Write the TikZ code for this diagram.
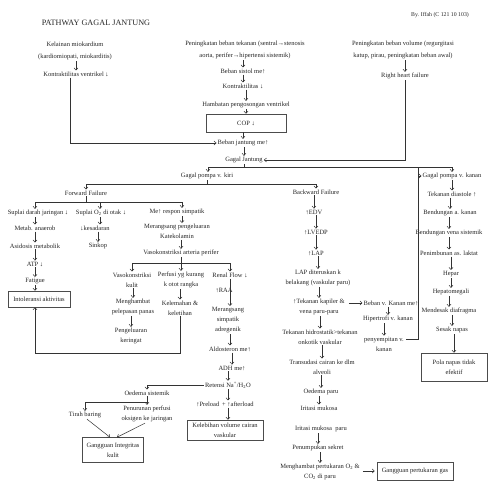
\documentclass[tikz,border=0pt]{standalone}
\usepackage{fontspec}
\setmainfont{Liberation Serif}
\usetikzlibrary{arrows.meta}
\newcommand\myfs{\fontsize{6.5}{10}\selectfont}
\newcommand\myfsb{\fontsize{6.5}{12}\selectfont}
\newcommand\dnar[2]{\draw[arr] (#2.north |- #1.south) -- (#2.north);}
\begin{document}
\begin{tikzpicture}[x=1pt,y=-1pt,
  t/.style={font=\myfs, align=center, inner sep=1pt, text=black!85},
  tb/.style={font=\myfsb, align=center, inner sep=1pt, text=black!85},
  bx/.style={t, draw=black!70, line width=0.5pt},
  arr/.style={-{Straight Barb[length=2.2pt,width=4pt]}, line width=0.5pt, draw=black!80},
  ln/.style={line width=0.5pt, draw=black!80}]
\fill[white] (0,0) rectangle (495,495);
\useasboundingbox (0,0) rectangle (495,495);

% header
\node[t,font=\fontsize{8.2}{10}\selectfont] (title) at (96,23) {PATHWAY GAGAL JANTUNG};
\node[t,font=\fontsize{5.8}{7}\selectfont] (by) at (440,15) {By. Iffah (C 121 10 103)};

% top left
\node[tb] (kel) at (75,51) {Kelainan miokardium\\(kardiomiopati, miokarditis)};
\node[t] (kontv) at (76,74) {Kontraktilitas ventrikel ↓};

% top middle
\node[tb] (pbt) at (245,50) {Peningkatan beban tekanan (sentral→stenosis\\aorta, perifer→hipertensi sistemik)};
\node[t] (bsm) at (243,71) {Beban sistol me↑};
\node[t] (kon) at (243,86) {Kontraktilitas ↓};
\node[t] (hpv) at (246,105) {Hambatan pengosongan ventrikel};
\node[bx,minimum width=80pt,minimum height=18pt] (cop) at (246,123) {COP ↓};
\node[t] (bjm) at (243,143) {Beban jantung me↑};
\node[t] (gj) at (244,160) {Gagal Jantung};

% top right
\node[tb] (pbv) at (403,50) {Peningkatan beban volume (regurgitasi\\katup, pirau, peningkatan beban awal)};
\node[t] (rhf) at (405,76) {Right heart failure};

% level 2
\node[t] (gpki) at (207,176) {Gagal pompa v. kiri};
\node[t] (ff) at (86,193) {Forward Failure};
\node[t] (bf) at (316,192) {Backward Failure};

% forward: left
\node[t] (sdj) at (38,213) {Suplai darah jaringan ↓};
\node[t] (ma) at (35,228) {Metab. anaerob};
\node[t] (asi) at (35,246) {Asidosis metabolik};
\node[t] (atp) at (35,264) {ATP ↓};
\node[t] (fat) at (35,281) {Fatigue};
\node[bx,minimum width=62pt,minimum height=16pt] (ia) at (39,299) {Intoleransi aktivitas};

\node[t] (so2) at (101,213) {Suplai O\textsubscript{2} di otak ↓};
\node[t] (kes) at (95,228) {↓kesadaran};
\node[t] (sin) at (98,246) {Sinkop};

% forward: middle
\node[t] (mrs) at (177,212) {Me↑ respon simpatik};
\node[t] (mpk) at (177,231.5) {Merangsang pengeluaran\\Katekolamin};
\node[t] (vap) at (181,253) {Vasokonstriksi arteria perifer};

\node[t] (vk) at (132,280) {Vasokonstriksi\\kulit};
\node[t] (mpp) at (133,307) {Menghambat\\pelepasan panas};
\node[t] (pk) at (131,336) {Pengeluaran\\keringat};

\node[t] (pyk) at (181,280) {Perfusi yg kurang\\k otot rangka};
\node[t] (kk) at (180,308) {Kelemahan \&\\keletihan};

\node[t] (rf) at (230,275) {Renal Flow ↓};
\node[t] (raa) at (224,290) {↑RAA};
\node[t] (msa) at (228,320) {Merangsang\\simpatik\\adregenik};
\node[t] (ald) at (230,349) {Aldosteron me↑};
\node[t] (adh) at (232,368) {ADH me↑};
\node[t] (ret) at (228,385) {Retensi Na\textsuperscript{+}/H\textsubscript{2}O};
\node[t] (pre) at (225,404) {↑Preload\, + ↑afterload};
\node[bx,minimum width=76pt,minimum height=20pt] (kvc) at (225,430) {Kelebihan volume cairan\\vaskular};

\node[t] (os) at (147,393) {Oedema sistemik};
\node[t] (tbr) at (85,415) {Tirah baring};
\node[t] (ppo) at (147,414) {Penurunan perfusi\\oksigen ke jaringan};
\node[bx,minimum width=61pt,minimum height=25pt] (gik) at (113,450) {Gangguan Integritas\\kulit};

% backward
\node[t] (edv) at (314,212) {↑EDV};
\node[t] (lvedp) at (316,232) {↑LVEDP};
\node[t] (lap) at (316,253) {↑LAP};
\node[t] (ldk) at (318,278) {LAP diteruskan k\\belakang (vaskular paru)};
\node[t] (tkp) at (319,307) {↑Tekanan kapiler \&\\vena paru-paru};
\node[t] (thk) at (320,337) {Tekanan hidrostatik>tekanan\\onkotik vaskular};
\node[t] (tcd) at (322,367) {Transudasi cairan ke dlm\\alveoli};
\node[t] (op) at (321,392) {Oedema paru};
\node[t] (im) at (319,408) {Iritasi mukosa};
\node[t] (imp) at (321,429) {Iritasi mukosa\ \ paru};
\node[t] (ps) at (318,448) {Penumpukan sekret};
\node[t] (mpo) at (320,472) {Menghambat pertukaran O\textsubscript{2} \&\\CO\textsubscript{2} di paru};
\node[bx,minimum width=76pt,minimum height=18pt] (gpg) at (415,471) {Gangguan pertukaran gas};

\node[t] (bvk) at (391,303) {Beban v. Kanan me↑};
\node[t] (hvk) at (388,319) {Hipertrofi v. kanan};
\node[t] (pvk) at (384,344) {penyempitan v.\\kanan};

% right column
\node[t] (gpka) at (452,176) {Gagal pompa v. kanan};
\node[t] (td) at (452,194) {Tekanan diastole ↑};
\node[t] (bak) at (450,213) {Bendungan a. kanan};
\node[t] (bvs) at (449,233) {Bendungan vena sistemik};
\node[t] (pal) at (449,253) {Penimbunan as. laktat};
\node[t] (hep) at (451,274) {Hepar};
\node[t] (hpm) at (451,292) {Hepatomegali};
\node[t] (mdf) at (449,311) {Mendesak diafragma};
\node[t] (sn) at (452,330) {Sesak napas};
\node[bx,minimum width=66pt,minimum height=28pt] (pnt) at (454,367) {Pola napas tidak\\efektif};

% junction coordinates
\coordinate (gjb) at (244,167);
\coordinate (fb) at (207,184);
\coordinate (fb2) at (86,202);
\coordinate (vb) at (181,263);
\coordinate (lp) at (180,353);
\coordinate (ob) at (147,402);
\coordinate (rc1) at (418,339);
\coordinate (rc2) at (418,167);

% connectors: top
\dnar{kel}{kontv}
\dnar{pbt}{bsm}
\dnar{bsm}{kon}
\dnar{kon}{hpv}
\dnar{hpv}{cop}
\draw[arr] ([xshift=-3pt]cop.south) -- ([xshift=-3pt]cop.south |- bjm.north);
\dnar{bjm}{gj}
\draw[arr] ([xshift=-6pt]kontv.south) |- (bjm.west);
\dnar{pbv}{rhf}
\draw[arr] (rhf.south) |- (gj.east);

% split of heart failure
\draw[ln] (gj.south) -- (gjb);
\draw[arr] (gjb) -| ([xshift=1pt]gpki.north);
\draw[arr] (gjb) -| (gpka.north);
\draw[ln] (gpki.south) -- (gpki.south |- fb);
\draw[arr] (gpki.south |- fb) -| (ff.north);
\draw[arr] (gpki.south |- fb) -| (bf.north);

% forward failure
\draw[ln] (ff.south) -- (fb2);
\draw[arr] (fb2) -| ([xshift=-3pt]sdj.north);
\draw[arr] (fb2) -| ([xshift=5pt]mrs.north);
\draw[arr] ([xshift=-1pt]so2.north |- fb2) -- ([xshift=-1pt]so2.north);
\dnar{sdj}{ma}
\dnar{ma}{asi}
\dnar{asi}{atp}
\dnar{atp}{fat}
\draw[arr] ([xshift=-4pt]ia.north |- fat.south) -- ([xshift=-4pt]ia.north);
\draw[arr] ([xshift=-1pt]so2.south) -- ([xshift=-1pt]so2.south |- kes.north);
\draw[arr] (sin.north |- kes.south) -- (sin.north);
\draw[arr] ([xshift=5pt]mrs.south) -- ([xshift=5pt]mrs.south |- mpk.north);
\dnar{mpk}{vap}
\draw[ln] (vap.south) -- (vb);
\draw[arr] (vb) -| (vk.north);
\draw[arr] (vb) -| (rf.north);
\draw[arr] (vb) -- (vb |- pyk.north);
\dnar{vk}{mpp}
\dnar{mpp}{pk}
\draw[arr] (kk.north |- pyk.south) -- (kk.north);
\draw[arr] (kk.south) -- (lp) -| ([xshift=-4pt]ia.south);
\draw[arr] (rf.south) -- (rf.south |- msa.north);
\draw[arr] ([xshift=2pt]msa.south) -- ([xshift=2pt]msa.south |- ald.north);
\dnar{ald}{adh}
\dnar{adh}{ret}
\draw[arr] (ret.south) -- (ret.south |- pre.north);
\draw[arr] ([xshift=3pt]pre.south) -- ([xshift=3pt]pre.south |- kvc.north);
\draw[arr] (ret.west) -| (os.north);
\draw[ln] (os.south) -- (ob);
\draw[arr] (ob) -| (tbr.north);
\draw[arr] (ob) -- (ob |- ppo.north);
\draw[arr] ([xshift=2pt]tbr.south) -- ([xshift=-3pt]gik.north);
\draw[arr] ([xshift=-2pt]ppo.south) -- ([xshift=4pt]gik.north);

% backward failure
\dnar{bf}{edv}
\dnar{edv}{lvedp}
\dnar{lvedp}{lap}
\dnar{lap}{ldk}
\dnar{ldk}{tkp}
\dnar{tkp}{thk}
\dnar{thk}{tcd}
\dnar{tcd}{op}
\dnar{op}{im}
\dnar{imp}{ps}
\dnar{ps}{mpo}
\draw[arr] ([xshift=2pt]mpo.east |- gpg.west) -- ([xshift=-2pt]gpg.west);
\draw[arr] ([xshift=3pt]tkp.east |- bvk.west) -- (bvk.west);
\dnar{bvk}{hvk}
\dnar{hvk}{pvk}
\draw[ln] ([xshift=1pt]pvk.east |- rc1) -- (rc1) -- (rc2);
\draw[arr] (rc1 |- gpka.west) -- (gpka.west);

% right column
\dnar{gpka}{td}
\dnar{td}{bak}
\dnar{bak}{bvs}
\dnar{bvs}{pal}
\dnar{pal}{hep}
\dnar{hep}{hpm}
\dnar{hpm}{mdf}
\dnar{mdf}{sn}
\dnar{sn}{pnt}
\end{tikzpicture}
\end{document}
